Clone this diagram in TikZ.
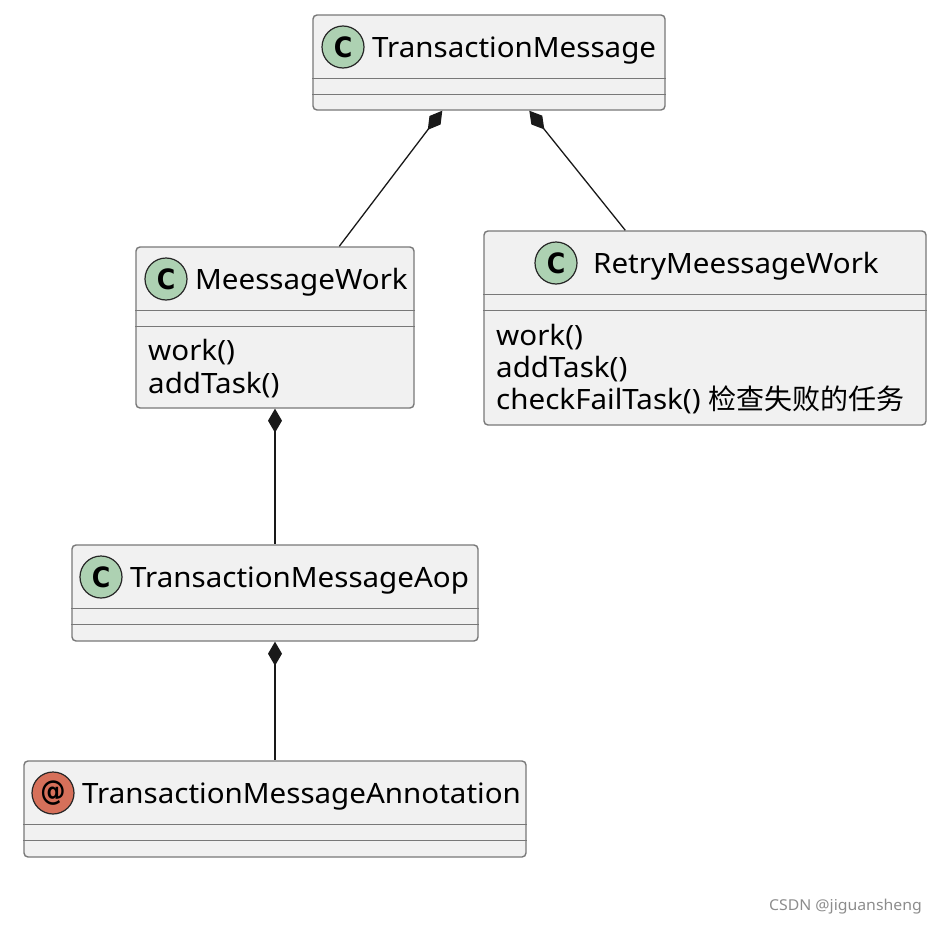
\documentclass[tikz,border=0pt]{standalone}
\usepackage{fontspec}
\setmainfont{Noto Sans}[FakeStretch=1.055]
\newfontfamily\cjk{Noto Sans CJK SC}
\newfontfamily\iconfont{DejaVu Sans Condensed}
\usetikzlibrary{arrows.meta}

\definecolor{boxfill}{RGB}{241,241,241}
\definecolor{boxline}{RGB}{120,120,120}
\definecolor{spotclass}{RGB}{173,209,178}
\definecolor{spotanno}{RGB}{214,112,90}

\tikzset{
	classbox/.style={draw=boxline, fill=boxfill, line width=1.4pt, rounded corners=4pt, inner sep=0pt},
	spot/.style={circle, draw=black!85, line width=1.2pt, minimum size=42pt, inner sep=0pt, font=\iconfont\bfseries\fontsize{28}{28}\selectfont},
	title/.style={anchor=base west, inner sep=0pt, font=\fontsize{28}{28}\selectfont},
	member/.style={anchor=base west, inner sep=0pt, font=\fontsize{28}{28}\selectfont},
	divider/.style={draw=boxline, line width=1.5pt},
	comp/.style={draw=black!90, line width=1.3pt, {Diamond[length=24pt,width=14pt]}-}
}

\begin{document}
\begin{tikzpicture}[x=1pt,y=-1pt]
\useasboundingbox (0,0) rectangle (938,926);

% class boxes
\node[classbox, minimum width=352pt, minimum height=95pt] (tm) at (489,62.5) {};
\node[classbox, minimum width=278pt, minimum height=161pt] (mw) at (275,327.5) {};
\node[classbox, minimum width=442pt, minimum height=194pt] (rmw) at (705,328) {};
\node[classbox, minimum width=406pt, minimum height=96pt] (aop) at (275,593) {};
\node[classbox, minimum width=502pt, minimum height=96pt] (ann) at (275,809) {};

% two dividers in each box
\foreach \b in {tm,mw,rmw,aop,ann}{
	\draw[divider] ([yshift=-64pt]\b.north west) -- ([yshift=-64pt]\b.north east);
	\draw[divider] ([yshift=-80pt]\b.north west) -- ([yshift=-80pt]\b.north east);
}

% headers
\node[spot, fill=spotclass] (tm-i) at (343,47) {C};
\node[title] (tm-t) at (372,57) {TransactionMessage};
\node[spot, fill=spotclass] (mw-i) at (166,279) {C};
\node[title] (mw-t) at (195,289) {MeessageWork};
\node[spot, fill=spotclass] (rmw-i) at (556,263) {C};
\node[title] (rmw-t) at (593,273) {RetryMeessageWork};
\node[spot, fill=spotclass] (aop-i) at (101,577) {C};
\node[title] (aop-t) at (130,587) {TransactionMessageAop};
\node[spot, fill=spotanno] (ann-i) at (53,793) {@};
\node[title] (ann-t) at (82,803) {TransactionMessageAnnotation};

% methods
\node[member] (mw-m1) at (148,360) {work()};
\node[member] (mw-m2) at (148,393) {addTask()};
\node[member] (rmw-m1) at (496,345) {work()};
\node[member] (rmw-m2) at (496,377) {addTask()};
\node[member] (rmw-m3) at (496,409) {checkFailTask() {\cjk 检查失败的任务}};

% compositions
\draw[comp] ([xshift=130pt]tm.south west) -- ([xshift=204pt]mw.north west);
\draw[comp] ([xshift=217pt]tm.south west) -- ([xshift=142pt]rmw.north west);
\draw[comp] (mw.south) -- (aop.north);
\draw[comp] (aop.south) -- (ann.north);

\node[anchor=east, inner sep=0pt, text=black!45, font=\fontsize{15}{15}\selectfont] (mark) at (922,907) {CSDN @jiguansheng};
\end{tikzpicture}
\end{document}
